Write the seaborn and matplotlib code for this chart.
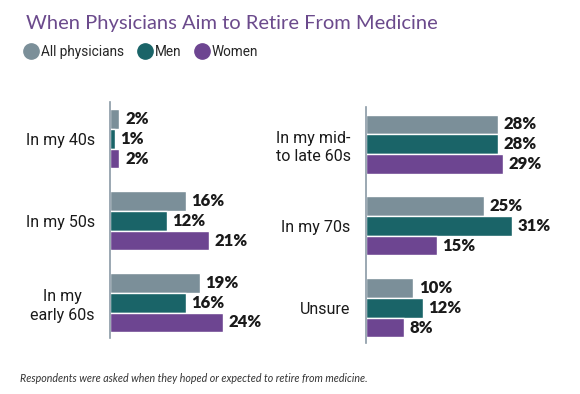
import matplotlib
matplotlib.use("Agg")
import matplotlib.pyplot as plt
from matplotlib.lines import Line2D
import pandas as pd
import seaborn as sns

# ─── Data ─────────────────────────────────────────────────────────────────────

groups = ["All physicians", "Men", "Women"]
left_cats = ["In my 40s", "In my 50s", "In my\nearly 60s"]
right_cats = ["In my mid-\nto late 60s", "In my 70s", "Unsure"]

all_phys = [2, 16, 19, 28, 25, 10]
men = [1, 12, 16, 28, 31, 12]
women = [2, 21, 24, 29, 15, 8]

colors = ["#7b8f99", "#1a6468", "#6d4591"]
title_color = "#6b4a8c"

cats = left_cats + right_cats
df = pd.DataFrame({
    "category": cats * 3,
    "group": [g for g in groups for _ in cats],
    "value": all_phys + men + women,
})

# ─── Plot ─────────────────────────────────────────────────────────────────────

sns.set_theme(style="white")
plt.rcParams["font.family"] = ["Roboto", "DejaVu Sans"]

fig = plt.figure(figsize=(5.8, 3.94), dpi=100)
ax_l = fig.add_axes([0.1897, 0.142, 0.285, 0.599])
ax_r = fig.add_axes([0.631, 0.129, 0.285, 0.599])

for ax, sub in ((ax_l, left_cats), (ax_r, right_cats)):
    d = df[df["category"].isin(sub)]
    sns.barplot(data=d, x="value", y="category", hue="group", order=sub,
                hue_order=groups, palette=colors, width=0.72, saturation=1,
                orient="h", ax=ax, legend=False)
    for cont in ax.containers:
        ax.bar_label(cont, labels=[f"{v:g}%" for v in cont.datavalues],
                     padding=4, fontsize=12, fontweight="heavy",
                     family=["Lato", "DejaVu Sans"], color="#1a1a1a")
    ax.set_xlim(0, 35)
    ax.set_ylim(2.43, -0.45)
    ax.set_xlabel("")
    ax.set_ylabel("")
    ax.set_xticks([])
    ax.tick_params(axis="y", length=0, pad=11, labelsize=11.5)
    for lbl in ax.get_yticklabels():
        lbl.set_multialignment("center")
        lbl.set_linespacing(1.3)
        lbl.set_color("#1a1a1a")
    sns.despine(ax=ax, left=False, bottom=True)
    ax.spines["left"].set_color("#8a9aa5")
    ax.spines["left"].set_linewidth(1.2)

fig.text(0.045, 0.94, "When Physicians Aim to Retire From Medicine",
         fontsize=14.5, color=title_color, va="center",
         family=["Lato", "DejaVu Sans"])

handles = [Line2D([], [], marker="o", ls="", markersize=11, color=c)
           for c in colors]
fig.legend(handles, groups, loc="center left", bbox_to_anchor=(0.02, 0.868),
           ncol=3, frameon=False, fontsize=9.8, handletextpad=0.15,
           columnspacing=1.0, handlelength=1.1)

fig.text(0.035, 0.04,
         "Respondents were asked when they hoped or expected to retire from medicine.",
         fontsize=7.7, style="italic", color="#333333", va="center",
         family=["Lato", "DejaVu Sans"])

fig.savefig("out.png", dpi=100)
